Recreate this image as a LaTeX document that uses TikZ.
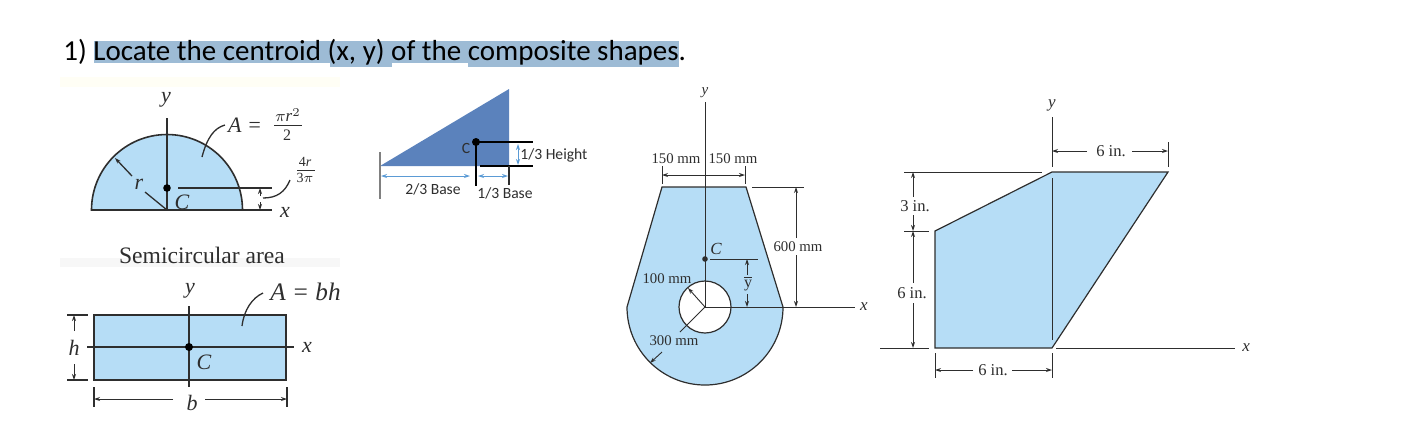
\documentclass[tikz,border=0pt]{standalone}
\usepackage{fontspec}
\setmainfont{Liberation Serif}
\newfontfamily\titlefont{Carlito}
\usetikzlibrary{positioning, arrows.meta}
\definecolor{shapeblue}{HTML}{B6DDF6}
\definecolor{wedgeblue}{HTML}{5B82BC}
\definecolor{markblue}{HTML}{9DBBD5}
\definecolor{dimblue}{HTML}{5B9BD5}
\definecolor{inkgray}{HTML}{2E2E2E}
\tikzset{
  smalltip/.tip={Stealth[length=3pt, width=2pt]},
  lbl/.style={text=inkgray, inner sep=0pt, font=\fontsize{7.4}{8}\selectfont},
  inlbl/.style={text=inkgray, inner sep=0pt, font=\fontsize{8.3}{9}\selectfont},
  varlbl/.style={text=inkgray, inner sep=0pt, font=\fontsize{11}{12}\selectfont\itshape},
  notelbl/.style={text=inkgray, inner sep=0pt, font=\titlefont\fontsize{7.8}{8}\selectfont},
  outline/.style={draw=inkgray, line width=0.6pt, fill=shapeblue},
  thin line/.style={draw=inkgray, line width=0.45pt},
  mid line/.style={draw=inkgray, line width=0.65pt},
  heavy line/.style={draw=inkgray, line width=1pt},
  dimline/.style={draw=inkgray, line width=0.45pt, -smalltip},
  bluedim/.style={draw=dimblue, line width=0.45pt, smalltip-smalltip},
}
\begin{document}
\begin{tikzpicture}[x=0.5pt, y=-0.5pt]
        \useasboundingbox (0,0) rectangle (1411,420);

        % Title
        \fill[markblue] (94,41) rectangle (330,63);
        \fill[markblue] (330,41) rectangle (392,67);
        \fill[markblue] (392,41) rectangle (468,63);
        \fill[markblue] (468,41) rectangle (679,67);
        \node[anchor=base west, inner sep=0pt, font=\titlefont\fontsize{14.5}{15}\selectfont] (title) at (63,60) {1) Locate the centroid (x, y) of the composite shapes.};

        % Faint bands
        \fill[yellow!4] (60,77) rectangle (340,87);
        \fill[black!3] (60,258) rectangle (340,267);

        % Semicircle
        \coordinate (semiO) at (167,210);
        \coordinate (semiC) at (167,188);
        \filldraw[outline, line width=0.8pt] (91.5,210) arc[start angle=180, end angle=360, radius=75.5] -- cycle;
        \node[varlbl] (semiy) at (166,100) {y};
        \coordinate (semitop) at (167,118);
        \draw[mid line] (semitop) -- (semiO);
        \fill[black] (semiC) circle (3.8);
        \node[varlbl] (semiClbl) at (182,202) {C};
        \coordinate (semiRim) at (115,158);
        \node[varlbl] (semir) at (139,184) {r};
        \draw[mid line, -smalltip] (semir) ++(-7,-8) -- (semiRim);
        \draw[mid line] (semir) ++(6,8) -- (semiO);
        \draw[mid line] (178,188) -- (272,188);
        \node[varlbl] (semix) at (285,212) {x};
        \draw[mid line] (92,210) -- (272,210);
        \draw[dimline] (260,196) -- (260,188);
        \draw[dimline] (260,202) -- (260,210);
        \node[varlbl] (semiA) at (245,125) {A =};
        \node[lbl, font=\fontsize{8.5}{9}\selectfont\itshape] (semiAtop) at (288,115) {$\pi$r$^2$};
        \node[lbl, font=\fontsize{8}{9}\selectfont] (semiAbot) at (287,135) {2};
        \draw[thin line] (274,125) -- (302,125);
        \draw[mid line] (202,157) .. controls (207,138) and (214,128) .. (225,125);
        \node[lbl, font=\fontsize{7}{8}\selectfont\itshape] (semiFtop) at (305,162) {\upshape 4\itshape r};
        \node[lbl, font=\fontsize{7}{8}\selectfont] (semiFbot) at (305,178) {3\itshape $\pi$};
        \draw[thin line] (297,170) -- (315,170);
        \draw[mid line] (263,198) .. controls (277,198) and (285,192) .. (290,180);
        \node[lbl, font=\fontsize{11.8}{12}\selectfont] (semititle) at (202,255) {Semicircular area};

        % Rectangle
        \filldraw[outline, line width=1pt] (94,315) rectangle (286,380);
        \node[varlbl] (recty) at (190,291) {y};
        \node[varlbl] (rectx) at (307,347) {x};
        \node[varlbl, anchor=west, font=\fontsize{12.6}{13}\selectfont\itshape] (rectA) at (270,292) {A = bh};
        \node[varlbl] (rectClbl) at (204,362) {C};
        \node[varlbl] (recth) at (74,348) {h};
        \node[varlbl] (rectb) at (192,403) {b};
        \draw[heavy line] (189,306) -- (189,387);
        \draw[heavy line] (87,347) -- (294,347);
        \fill[black] (189,347) circle (4);
        \draw[mid line] (242,326) .. controls (244,310) and (252,298) .. (263,293);
        \draw[mid line] (67,315) -- (88,315);
        \draw[mid line] (67,380) -- (88,380);
        \draw[dimline] (74,331) -- (74,315);
        \draw[dimline] (74,364) -- (74,380);
        \draw[mid line] (94,387) -- (94,407);
        \draw[mid line] (287,387) -- (287,407);
        \draw[dimline] (rectb) ++(-19,-4) -- (94,399);
        \draw[dimline] (rectb) ++(13,-4) -- (287,399);

        % Triangle
        \fill[wedgeblue] (380,166) -- (509,89) -- (509,166) -- cycle;
        \draw[gray, line width=1pt] (380,152) -- (380,199);
        \draw[black, line width=0.7pt] (476,142) -- (533,142);
        \draw[black, line width=0.7pt] (480,166) -- (533,166);
        \draw[black, line width=0.7pt] (476,142) -- (476,186);
        \draw[inkgray, line width=0.7pt] (509,166) -- (509,185);
        \fill[black] (476,142) circle (4);
        \node[notelbl] (triC) at (466,148) {C};
        \node[notelbl, anchor=west] (triH) at (520,155) {1/3 Height};
        \node[notelbl] (triB) at (433,189) {2/3 Base};
        \node[notelbl] (triB2) at (505,193) {1/3 Base};
        \draw[bluedim] (518,144) -- (518,165);
        \draw[bluedim] (381,176) -- (470,176);
        \draw[bluedim] (478,176) -- (508,176);

        % Trapezoid with hole
        \filldraw[outline] (662,187) -- (746,187) -- (783,307) arc[start angle=0, end angle=180, radius=78] -- cycle;
        \filldraw[draw=inkgray, line width=0.6pt, fill=white] (705,307) circle (26);
        \node[varlbl, font=\fontsize{7.5}{8}\selectfont\itshape] (trapy) at (705,93) {y};
        \node[varlbl, font=\fontsize{8.5}{9}\selectfont\itshape] (trapx) at (864,307) {x};
        \node[varlbl, font=\fontsize{8.5}{9}\selectfont\itshape] (trapC) at (716,249) {C};
        \draw[thin line] (705,102) -- (705,307);
        \draw[thin line] (705,307) -- (855,307);
        \fill[inkgray] (705,259) circle (2.8);
        \draw[thin line] (710,259) -- (758,259);
        \node[lbl] (w1) at (676,159) {150 mm};
        \node[lbl] (w2) at (733,159) {150 mm};
        \draw[thin line] (662,166) -- (662,184);
        \draw[thin line] (745,166) -- (745,184);
        \draw[dimline] (705,175) -- (662,175);
        \draw[dimline] (705,175) -- (745,175);
        \draw[thin line] (752,187) -- (804,187);
        \node[lbl] (h600) at (798,247) {600 mm};
        \draw[dimline] (796,238) -- (796,187);
        \draw[dimline] (796,255) -- (796,307);
        \node[lbl, font=\fontsize{8}{9}\selectfont] (ybar) at (748,284) {$\overline{\mbox{y}}$};
        \draw[dimline] (747,275) -- (747,259);
        \draw[dimline] (747,294) -- (747,307);
        \node[lbl] (r100) at (667,279) {100 mm};
        \node[lbl] (r300) at (674,341) {300 mm};
        \draw[thin line, -smalltip] (705,307) -- (688,288);
        \draw[thin line] (705,307) -- (680,332);
        \draw[thin line, -smalltip] (662,352) -- (650,363);

        % Quadrilateral
        \filldraw[outline] (935,231) -- (1052,172) -- (1168,172) -- (1052,348) -- (935,348) -- cycle;
        \node[varlbl, font=\fontsize{8.5}{9}\selectfont\itshape] (quady) at (1052,105) {y};
        \node[varlbl, font=\fontsize{8.5}{9}\selectfont\itshape] (quadx) at (1246,348) {x};
        \draw[thin line] (1052,117) -- (1052,167);
        \draw[thin line] (1052,178) -- (1052,340);
        \draw[thin line] (880,348) -- (929,348);
        \draw[thin line] (1056,348) -- (1235,348);
        \draw[thin line] (1168,142) -- (1168,167);
        \node[inlbl] (top6) at (1111,151) {6 in.};
        \draw[dimline] (top6) ++(-24,0) -- (1052,151);
        \draw[dimline] (top6) ++(21,0) -- (1168,151);
        \draw[thin line] (904,172) -- (1042,172);
        \draw[thin line] (904,231) -- (929,231);
        \node[inlbl] (left3) at (915,206) {3 in.};
        \node[inlbl] (left6) at (912,293) {6 in.};
        \draw[dimline] (913,197) -- (913,172);
        \draw[dimline] (913,215) -- (913,231);
        \draw[dimline] (913,283) -- (913,231);
        \draw[dimline] (913,303) -- (913,348);
        \draw[thin line] (935,353) -- (935,378);
        \draw[thin line] (1052,353) -- (1052,378);
        \node[inlbl] (bot6) at (993,370) {6 in.};
        \draw[dimline] (bot6) ++(-20,0) -- (935,370);
        \draw[dimline] (bot6) ++(19,0) -- (1052,370);
    \end{tikzpicture}
\end{document}
